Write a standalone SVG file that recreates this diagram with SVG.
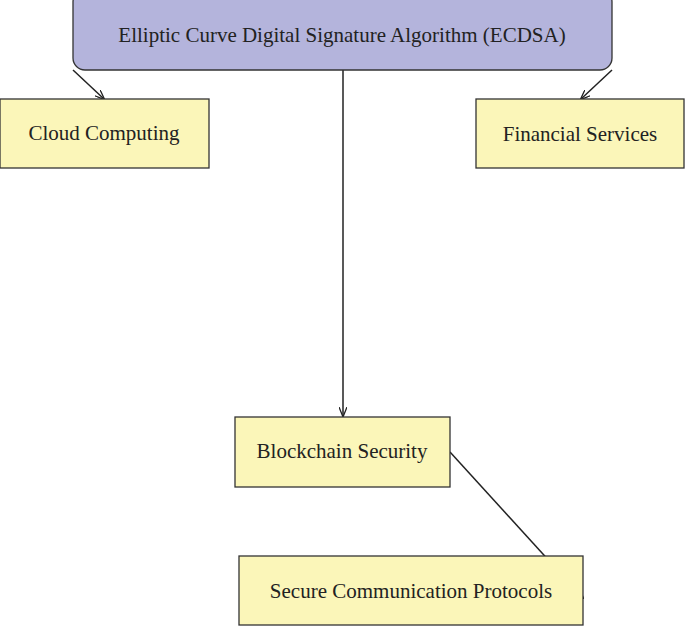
<svg xmlns="http://www.w3.org/2000/svg" width="685" height="627" viewBox="0 0 685 627">
<defs>
<marker id="ah" markerWidth="10" markerHeight="8" refX="9" refY="4" orient="auto" markerUnits="userSpaceOnUse">
<path d="M0,0 L10,4 L0,8" fill="none" stroke="#222" stroke-width="1.3"/>
</marker>
<style>
.box{fill:#fbf6b9;stroke:#333;stroke-width:1.3}
.top{fill:#b4b4dc;stroke:#333;stroke-width:1.3}
text{font-family:"Liberation Serif",serif;font-size:21px;fill:#222;text-anchor:middle;dominant-baseline:central}
.c{stroke:#222;stroke-width:1.5;fill:none;marker-end:url(#ah)}
</style>
</defs>
<rect width="685" height="627" fill="#fff"/>
<g id="connectors">
<line class="c" x1="73" y1="70" x2="104" y2="99"/>
<line class="c" x1="612" y1="70" x2="581" y2="99"/>
<line class="c" x1="343" y1="70" x2="343" y2="416"/>
<line class="c" x1="450" y1="452" x2="583" y2="598"/>
</g>
<g id="ecdsa"><rect class="top" x="73" y="-10" width="539" height="80" rx="12"/><text x="342" y="35">Elliptic Curve Digital Signature Algorithm (ECDSA)</text></g>
<g id="cloud"><rect class="box" x="0" y="99" width="209" height="69"/><text x="104" y="133">Cloud Computing</text></g>
<g id="financial"><rect class="box" x="476" y="99" width="208" height="69"/><text x="580" y="134">Financial Services</text></g>
<g id="blockchain"><rect class="box" x="235" y="417" width="215" height="70"/><text x="342" y="451">Blockchain Security</text></g>
<g id="secure"><rect class="box" x="239" y="556" width="344" height="69"/><text x="411" y="591">Secure Communication Protocols</text></g>
</svg>
